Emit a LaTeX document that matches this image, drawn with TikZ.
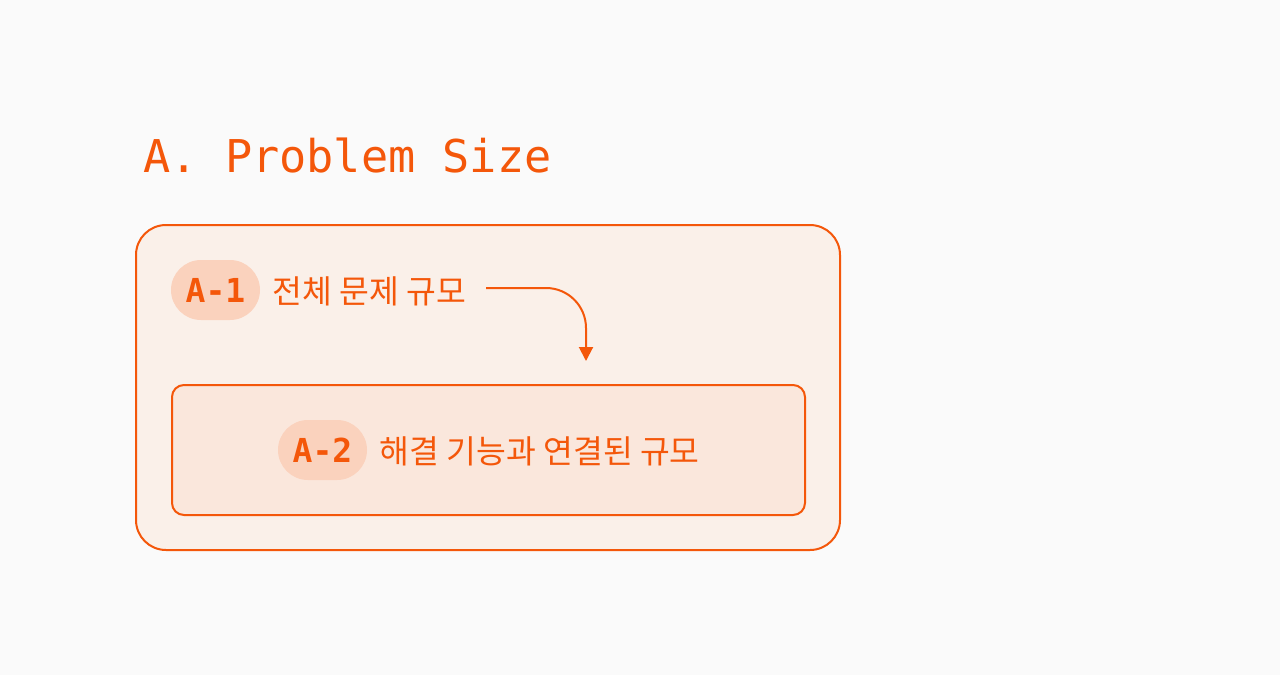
\documentclass[tikz,border=0pt]{standalone}
\usepackage{fontspec}
\setmonofont{DejaVu Sans Mono}
\newfontfamily\krfont{Noto Sans CJK KR}
\usetikzlibrary{arrows.meta}
\usetikzlibrary{positioning}

\definecolor{bgcol}{HTML}{FAFAFA}
\definecolor{orangeline}{HTML}{F4570A}
\definecolor{outerfill}{HTML}{FAF0E9}
\definecolor{innerfill}{HTML}{FAE7DC}
\definecolor{pillfill}{HTML}{FAD2BD}

\tikzset{
  pill/.style={fill=pillfill, draw=none, rounded corners=15pt, minimum width=44.5pt, minimum height=30pt, inner sep=0pt, text=orangeline, font=\ttfamily\bfseries\fontsize{16.5}{16.5}\selectfont},
  krlabel/.style={anchor=west, inner sep=0.75pt, text=orangeline, font=\krfont\fontsize{16.2}{16.2}\selectfont},
  framebox/.style={draw=orangeline, line width=1pt},
}

\begin{document}
\begin{tikzpicture}[x=0.5pt,y=0.5pt,yscale=-1,xscale=1]
%background, sets the page to 1280 x 675
\fill[bgcol] (0,0) rectangle (1280,675);
\useasboundingbox (0,0) rectangle (1280,675);

%Shape: Rounded Rect [id:outer]
\draw [framebox, fill=outerfill, rounded corners=15pt] (136,225) rectangle (840,550);
%Shape: Rounded Rect [id:inner]
\draw [framebox, fill=innerfill, rounded corners=6pt] (172,385) rectangle (805,515);

% Text Node
\draw (143,172) node [anchor=base west] [inner sep=0pt, text=orangeline, font=\ttfamily\fontsize{22.6}{22.6}\selectfont] (title) {A. Problem Size};

% Pill A-1
\draw (215.5,290) node [pill] (tagA1) {A-1};
% Text Node
\draw (271,291) node [krlabel] (sizeA1) {전체 문제 규모};

% Pill A-2
\draw (322.5,450) node [pill] (tagA2) {A-2};
% Text Node
\draw (378,451) node [krlabel] (sizeA2) {해결 기능과 연결된 규모};

%Curve Lines [id:arrow]
\coordinate (arrStart) at (486,288);
\coordinate (arrEnd) at (586,361);
\draw [orangeline, line width=1pt, rounded corners=20pt, -{Triangle[length=7pt, width=7pt]}] (arrStart) -| (arrEnd);

\end{tikzpicture}
\end{document}
